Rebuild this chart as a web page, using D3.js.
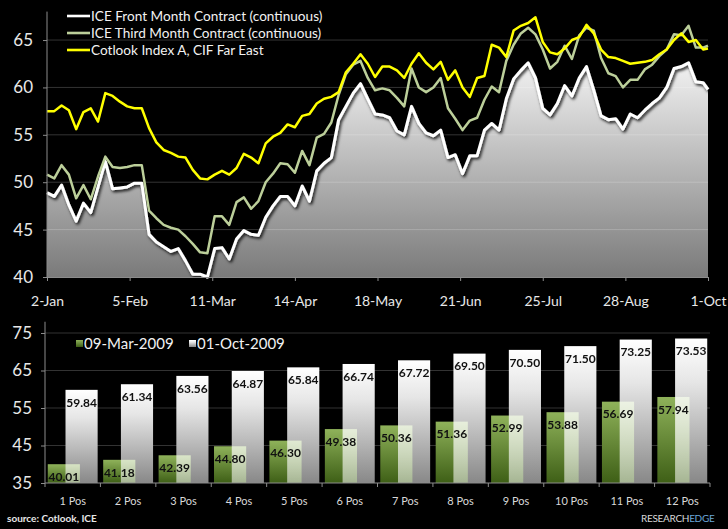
<html>
<head>
<script src="https://d3js.org/d3.v7.min.js"></script>
<style>
    body { margin: 0; background: #000; }
    text { font-family: Lato, "Liberation Sans", sans-serif; }
</style>
</head>
<body>
<svg id="chart" width="728" height="529"></svg>
<script>
// ---- top chart data (read every 3 days) ----
const dates = [
    "2009-01-02","2009-01-05","2009-01-08","2009-01-11","2009-01-14","2009-01-17","2009-01-20","2009-01-23","2009-01-26","2009-01-29",
    "2009-02-01","2009-02-04","2009-02-07","2009-02-10","2009-02-13","2009-02-16","2009-02-19","2009-02-22","2009-02-25","2009-02-28",
    "2009-03-03","2009-03-06","2009-03-09","2009-03-12","2009-03-15","2009-03-18","2009-03-21","2009-03-24","2009-03-27","2009-03-30",
    "2009-04-02","2009-04-05","2009-04-08","2009-04-11","2009-04-14","2009-04-17","2009-04-20","2009-04-23","2009-04-26","2009-04-29",
    "2009-05-02","2009-05-05","2009-05-08","2009-05-11","2009-05-14","2009-05-17","2009-05-20","2009-05-23","2009-05-26","2009-05-29",
    "2009-06-01","2009-06-04","2009-06-07","2009-06-10","2009-06-13","2009-06-16","2009-06-19","2009-06-22","2009-06-25","2009-06-28",
    "2009-07-01","2009-07-04","2009-07-07","2009-07-10","2009-07-13","2009-07-16","2009-07-19","2009-07-22","2009-07-25","2009-07-28",
    "2009-07-31","2009-08-03","2009-08-06","2009-08-09","2009-08-12","2009-08-15","2009-08-18","2009-08-21","2009-08-24","2009-08-27",
    "2009-08-30","2009-09-02","2009-09-05","2009-09-08","2009-09-11","2009-09-14","2009-09-17","2009-09-20","2009-09-23","2009-09-26",
    "2009-09-29","2009-10-01"
];
const frontMonth = [
    48.9,48.5,49.7,47.6,45.9,47.8,46.8,49.5,52.2,49.3,
    49.4,49.5,49.9,49.9,44.5,43.7,43.2,42.7,43.0,41.7,
    40.3,40.3,40.0,43.0,43.1,41.9,44.0,44.9,44.5,44.4,
    46.3,47.5,48.5,48.5,47.5,49.6,48.0,51.2,52.0,52.6,
    56.6,58.0,59.4,60.4,58.8,57.2,57.1,56.8,55.4,55.0,
    58.0,56.2,55.2,54.9,55.5,52.6,52.9,50.9,52.8,52.8,
    55.5,56.2,55.5,58.8,60.9,61.8,62.6,61.0,57.8,57.1,
    58.3,60.2,59.1,61.0,62.2,59.7,57.0,56.6,56.7,55.6,
    57.2,56.8,57.6,58.3,58.9,60.0,62.0,62.2,62.6,60.6,
    60.5,59.8
];
const thirdMonth = [
    50.8,50.4,51.8,50.8,48.3,49.7,48.2,50.6,52.7,51.6,
    51.5,51.6,51.8,51.8,47.0,46.2,45.5,45.2,45.0,44.3,
    43.5,42.6,42.5,46.4,46.4,45.5,47.9,48.4,47.2,48.0,
    50.0,50.9,52.0,51.9,51.0,53.3,51.8,54.7,55.1,56.3,
    59.2,61.4,62.4,62.8,61.0,59.7,59.9,59.7,58.9,58.0,
    62.0,60.0,59.5,60.0,61.0,57.8,56.7,55.5,56.5,56.8,
    58.7,60.1,59.5,62.8,64.5,65.7,66.3,65.6,64.0,62.0,
    62.7,64.4,63.0,65.5,66.3,66.0,63.1,61.5,61.2,60.0,
    60.8,60.8,61.9,62.4,63.3,64.0,65.6,65.5,66.5,64.2,
    64.2,64.4
];
const cotlook = [
    57.5,57.5,58.1,57.6,55.6,57.4,57.8,56.4,59.4,59.1,
    58.5,58.0,57.8,57.8,55.7,54.2,53.4,53.1,52.7,52.6,
    51.3,50.4,50.3,50.8,51.2,50.8,51.5,53.0,52.6,52.0,
    54.1,54.8,55.2,56.1,55.8,57.0,57.2,58.3,58.8,59.0,
    59.5,61.6,62.5,63.5,62.5,61.1,62.2,62.2,61.8,61.0,
    62.5,63.6,62.6,61.9,62.7,60.8,61.8,60.0,59.0,61.0,
    61.2,64.5,64.2,63.2,66.0,66.5,66.8,67.4,64.8,63.7,
    63.5,64.1,65.0,65.3,66.6,65.7,64.0,63.2,63.1,62.8,
    62.5,62.6,62.7,62.9,63.5,64.0,65.0,65.7,64.8,65.0,
    64.0,64.1
];
const seriesNames = ["ICE Front Month Contract (continuous)", "ICE Third Month Contract (continuous)", "Cotlook Index A, CIF Far East"];
const xTickDates = ["2009-01-02","2009-02-05","2009-03-11","2009-04-14","2009-05-18","2009-06-21","2009-07-25","2009-08-28","2009-10-01"];
const yTicksTop = [40, 45, 50, 55, 60, 65];

// ---- bottom chart data ----
const positions = ["1 Pos","2 Pos","3 Pos","4 Pos","5 Pos","6 Pos","7 Pos","8 Pos","9 Pos","10 Pos","11 Pos","12 Pos"];
const barNames = ["09-Mar-2009", "01-Oct-2009"];
const mar09 = [40.01, 41.18, 42.39, 44.80, 46.30, 49.38, 50.36, 51.36, 52.99, 53.88, 56.69, 57.94];
const oct01 = [59.84, 61.34, 63.56, 64.87, 65.84, 66.74, 67.72, 69.50, 70.50, 71.50, 73.25, 73.53];
const yTicksBottom = [35, 45, 55, 65, 75];

const parse = d3.timeParse("%Y-%m-%d");
const svg = d3.select("svg#chart");
const defs = svg.append("defs");

// gradients + shadow
const areaGrad = defs.append("linearGradient").attr("id", "areaGrad")
    .attr("gradientUnits", "userSpaceOnUse").attr("x1", 0).attr("x2", 0).attr("y1", 55).attr("y2", 277);
areaGrad.append("stop").attr("offset", "0%").attr("stop-color", "#f6f6f6");
areaGrad.append("stop").attr("offset", "100%").attr("stop-color", "#7a7a7a");

const greenGrad = defs.append("linearGradient").attr("id", "greenGrad")
    .attr("x1", 0).attr("x2", 0).attr("y1", 0).attr("y2", 1);
greenGrad.append("stop").attr("offset", "0%").attr("stop-color", "#8fb25a");
greenGrad.append("stop").attr("offset", "100%").attr("stop-color", "#3e5f16");

const whiteGrad = defs.append("linearGradient").attr("id", "whiteGrad")
    .attr("x1", 0).attr("x2", 0).attr("y1", 0).attr("y2", 1);
whiteGrad.append("stop").attr("offset", "0%").attr("stop-color", "#ffffff");
whiteGrad.append("stop").attr("offset", "30%").attr("stop-color", "#e6e6e6");
whiteGrad.append("stop").attr("offset", "100%").attr("stop-color", "#888888");

const shadow = defs.append("filter").attr("id", "shadow")
    .attr("x", "-5%").attr("y", "-5%").attr("width", "110%").attr("height", "120%");
shadow.append("feDropShadow").attr("dx", 1.5).attr("dy", 2).attr("stdDeviation", 1.4)
    .attr("flood-color", "#000").attr("flood-opacity", 0.9);

// ================= top chart =================
const x = d3.scaleTime().domain([parse(dates[0]), parse(dates[dates.length - 1])]).range([47, 708]);
const y = d3.scaleLinear().domain([40, 68]).range([277, 11.6]);

const pts = (vals) => vals.map((v, i) => ({date: parse(dates[i]), v: v}));

svg.append("path")
    .datum(pts(frontMonth))
    .attr("fill", "url(#areaGrad)")
    .attr("d", d3.area().x(d => x(d.date)).y0(y(40)).y1(d => y(d.v)));

// gridlines
svg.append("g")
    .selectAll("line")
    .data(yTicksTop.slice(1))
    .join("line")
    .attr("x1", 47).attr("x2", 708)
    .attr("y1", d => y(d)).attr("y2", d => y(d))
    .attr("stroke", "rgba(255,255,255,0.2)").attr("stroke-width", 1);

const line = d3.line().x(d => x(d.date)).y(d => y(d.v));
const lineColors = ["#ffffff", "#bccf9a", "#ffff00"];

svg.append("path").datum(pts(frontMonth))
    .attr("fill", "none").attr("stroke", lineColors[0]).attr("stroke-width", 3)
    .attr("stroke-linejoin", "round").attr("filter", "url(#shadow)").attr("d", line);
svg.append("path").datum(pts(thirdMonth))
    .attr("fill", "none").attr("stroke", lineColors[1]).attr("stroke-width", 2.5)
    .attr("stroke-linejoin", "round").attr("d", line);
svg.append("path").datum(pts(cotlook))
    .attr("fill", "none").attr("stroke", lineColors[2]).attr("stroke-width", 2.5)
    .attr("stroke-linejoin", "round").attr("d", line);

// axes
const leftAxis = d3.axisLeft(y).tickValues(yTicksTop).tickSize(4).tickSizeOuter(0).tickPadding(10);
const gy = svg.append("g").attr("transform", "translate(47,0)").call(leftAxis);
gy.select(".domain").attr("stroke", "#8c8c8c").attr("d", `M0,${y(68)}V${y(40)}`);
gy.selectAll(".tick line").attr("stroke", "#8c8c8c");
gy.selectAll("text").attr("fill", "#e8e8e8").style("font-size", "17px");

const bottomAxis = d3.axisBottom(x).tickValues(xTickDates.map(parse))
    .tickFormat(d3.timeFormat("%-d-%b")).tickSize(4).tickSizeOuter(0).tickPadding(15);
const gx = svg.append("g").attr("transform", "translate(0,277)").call(bottomAxis);
gx.select(".domain").attr("stroke", "#8c8c8c");
gx.selectAll(".tick line").attr("stroke", "#8c8c8c");
gx.selectAll("text").attr("fill", "#e8e8e8").style("font-size", "14px");

// legend
const legend = svg.append("g");
seriesNames.forEach((name, i) => {
    const ly = 16 + i * 17;
    legend.append("line").attr("x1", 67).attr("x2", 90).attr("y1", ly).attr("y2", ly)
        .attr("stroke", lineColors[i]).attr("stroke-width", 2.6);
    legend.append("text").attr("x", 91).attr("y", ly).attr("dy", "0.35em")
        .attr("fill", "#f2f2f2").style("font-size", "13.6px").text(name);
});

// ================= bottom chart =================
const xb = d3.scaleBand().domain(positions).range([45, 710]);
const yb = d3.scaleLinear().domain([35, 78]).range([483, 321.75]);
const bw = xb.bandwidth();
const barW = bw * 0.58;
const half = bw * 0.45;

svg.append("g")
    .selectAll("line")
    .data(yTicksBottom.slice(1))
    .join("line")
    .attr("x1", 45).attr("x2", 710)
    .attr("y1", d => yb(d)).attr("y2", d => yb(d))
    .attr("stroke", "rgba(255,255,255,0.2)");

const bars = svg.append("g").style("isolation", "isolate");
positions.forEach((p, i) => {
    const c = xb(p) + bw / 2;
    bars.append("rect")
        .attr("x", c - half).attr("width", barW)
        .attr("y", yb(mar09[i])).attr("height", yb(35) - yb(mar09[i]))
        .attr("fill", "url(#greenGrad)");
    bars.append("rect")
        .attr("x", c + half - barW).attr("width", barW)
        .attr("y", yb(oct01[i])).attr("height", yb(35) - yb(oct01[i]))
        .attr("fill", "url(#whiteGrad)")
        .style("mix-blend-mode", "screen");
});
positions.forEach((p, i) => {
    const c = xb(p) + bw / 2;
    bars.append("text")
        .attr("x", c - half + barW / 2).attr("y", yb(mar09[i]) + 12.5).attr("dy", "0.35em")
        .attr("text-anchor", "middle").attr("fill", "#111").style("font-size", "12px").style("font-weight", "bold")
        .text(mar09[i].toFixed(2));
    bars.append("text")
        .attr("x", c + half - barW / 2).attr("y", yb(oct01[i]) + 12.5).attr("dy", "0.35em")
        .attr("text-anchor", "middle").attr("fill", "#111").style("font-size", "12px").style("font-weight", "bold")
        .text(oct01[i].toFixed(2));
});

const leftAxisB = d3.axisLeft(yb).tickValues(yTicksBottom).tickSize(4).tickSizeOuter(0).tickPadding(9);
const gyb = svg.append("g").attr("transform", "translate(45,0)").call(leftAxisB);
gyb.select(".domain").attr("stroke", "#8c8c8c").attr("d", `M0,${yb(78)}V${yb(35)}`);
gyb.selectAll(".tick line").attr("stroke", "#8c8c8c");
gyb.selectAll("text").attr("fill", "#e8e8e8").style("font-size", "17px");

const gxb = svg.append("g").attr("transform", "translate(0,483)");
gxb.append("line").attr("x1", 45).attr("x2", 710).attr("stroke", "#8c8c8c");
gxb.selectAll(".tk").data(positions.concat(["end"])).join("line")
    .attr("x1", (d, i) => 45 + i * bw).attr("x2", (d, i) => 45 + i * bw)
    .attr("y1", 0).attr("y2", 4).attr("stroke", "#8c8c8c");
gxb.selectAll(".lbl").data(positions).join("text")
    .attr("x", d => xb(d) + bw / 2).attr("y", 18).attr("dy", "0.35em")
    .attr("text-anchor", "middle").attr("fill", "#d8d8d8").style("font-size", "11px")
    .text(d => d);

// bottom legend
const legendB = svg.append("g");
[["url(#greenGrad)", 76, 84], ["url(#whiteGrad)", 189, 197]].forEach((l, i) => {
    legendB.append("rect").attr("x", l[1]).attr("y", 340).attr("width", 7).attr("height", 7).attr("fill", l[0]);
    legendB.append("text").attr("x", l[2]).attr("y", 344).attr("dy", "0.35em")
        .attr("fill", "#f2f2f2").style("font-size", "15px").text(barNames[i]);
});

// footer
svg.append("text").attr("x", 7).attr("y", 518).attr("dy", "0.35em")
    .attr("fill", "#e8e8e8").style("font-size", "10px").style("font-weight", "bold")
    .text("source: Cotlook, ICE");
const logo = svg.append("text").attr("x", 641).attr("y", 518).attr("dy", "0.35em")
    .style("font-size", "10px").style("letter-spacing", "-0.3px");
logo.append("tspan").attr("fill", "#d8d8d8").text("RESEARCH");
logo.append("tspan").attr("fill", "#6aa6d8").text("EDGE");
</script>
</body>
</html>
